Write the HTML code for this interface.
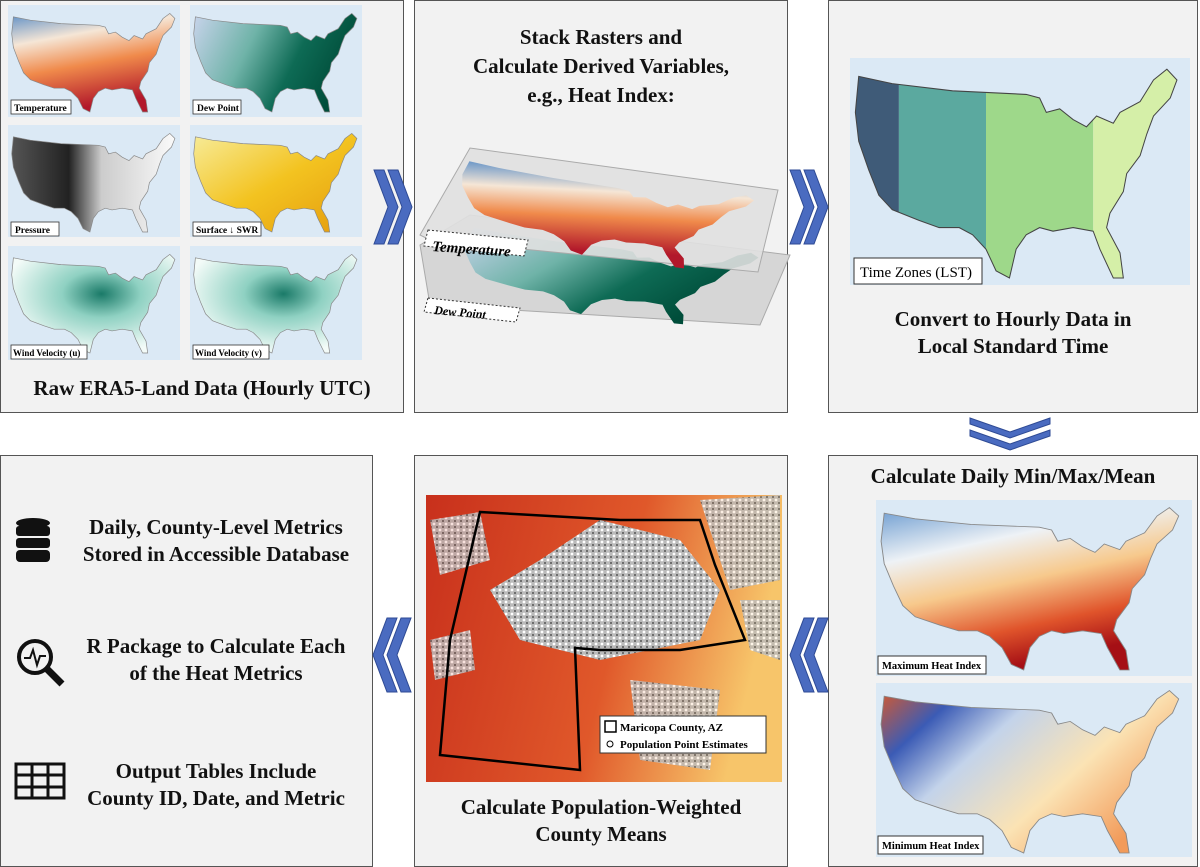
<!DOCTYPE html>
<html><head><meta charset="utf-8">
<style>
body{margin:0;width:1200px;height:867px;background:#fff;position:relative;overflow:hidden;font-family:"Liberation Serif",serif}
.panel{position:absolute;background:#f2f2f2;border:1.5px solid #555;box-sizing:border-box}
.t{position:absolute;font-weight:bold;text-align:center;color:#111;font-size:21px;line-height:27px}
svg{position:absolute;left:0;top:0}
</style></head><body>
<div class="panel" style="left:0;top:0;width:404px;height:413px"></div>
<div class="panel" style="left:414px;top:0;width:374px;height:413px"></div>
<div class="panel" style="left:828px;top:0;width:370px;height:413px"></div>
<div class="panel" style="left:0;top:455px;width:373px;height:412px"></div>
<div class="panel" style="left:414px;top:455px;width:374px;height:412px"></div>
<div class="panel" style="left:828px;top:455px;width:370px;height:412px"></div>

<svg width="1200" height="867" viewBox="0 0 1200 867">
<defs>
<path id="us" d="M2,4 L12,6 L30,8 L52,9 L56,10 L58,14 L62,13 L66,16 L70,18 L73,15 L78,17 L80,14 L86,11 L90,5 L94,2 L97,5 L95,10 L90,15 L88,20 L86,26 L82,31 L81,36 L77,42 L76,46 L80,53 L81,60 L78,60 L74,52 L72,47 L66,46 L60,47 L56,46 L52,48 L49,52 L47,60 L43,58 L40,52 L36,48 L32,46 L26,46 L20,44 L12,41 L8,37 L5,30 L2,22 L1,14 Z"/>
<clipPath id="usc"><use href="#us"/></clipPath>
<linearGradient id="gTemp" x1="0" y1="0" x2="0.3" y2="1"><stop offset="0" stop-color="#5b8ec6"/><stop offset="0.3" stop-color="#f5e6d6"/><stop offset="0.6" stop-color="#f08a4b"/><stop offset="1" stop-color="#b2182b"/></linearGradient>
<linearGradient id="gDew" x1="0" y1="0" x2="1" y2="0.3"><stop offset="0" stop-color="#c9d4ec"/><stop offset="0.4" stop-color="#6fb3a8"/><stop offset="0.7" stop-color="#0e6b55"/><stop offset="1" stop-color="#004d3a"/></linearGradient>
<linearGradient id="gPres" x1="0" y1="0" x2="1" y2="0"><stop offset="0" stop-color="#555"/><stop offset="0.35" stop-color="#222"/><stop offset="0.55" stop-color="#ccc"/><stop offset="1" stop-color="#fafafa"/></linearGradient>
<linearGradient id="gSwr" x1="0" y1="0" x2="1" y2="1"><stop offset="0" stop-color="#f7ec9a"/><stop offset="0.5" stop-color="#f3c320"/><stop offset="1" stop-color="#e49b0e"/></linearGradient>
<radialGradient id="gWind" cx="0.55" cy="0.4" r="0.6"><stop offset="0" stop-color="#1a7a68"/><stop offset="0.4" stop-color="#8fd1c2"/><stop offset="1" stop-color="#f3fbf8"/></radialGradient>
<linearGradient id="gMax" x1="0" y1="0" x2="0.4" y2="1"><stop offset="0" stop-color="#6b9bd0"/><stop offset="0.3" stop-color="#eef2f6"/><stop offset="0.55" stop-color="#f7c98c"/><stop offset="0.8" stop-color="#e0542b"/><stop offset="1" stop-color="#a50f15"/></linearGradient>
<linearGradient id="gMin" x1="0" y1="0" x2="1" y2="0.6"><stop offset="0" stop-color="#d55a2e"/><stop offset="0.2" stop-color="#3b5bb5"/><stop offset="0.4" stop-color="#c3d3ea"/><stop offset="0.7" stop-color="#fbe3b4"/><stop offset="1" stop-color="#f29b5a"/></linearGradient>
<linearGradient id="gRast" x1="0" y1="0" x2="1" y2="0.2"><stop offset="0" stop-color="#c8301c"/><stop offset="0.6" stop-color="#e0582a"/><stop offset="1" stop-color="#f7c56a"/></linearGradient>
<pattern id="speck" width="6" height="6" patternUnits="userSpaceOnUse"><rect width="6" height="6" fill="#bbb"/><circle cx="2" cy="2" r="1.4" fill="#fff"/><circle cx="5" cy="5" r="1" fill="#555"/></pattern>
<polygon id="chev" points="0,0 10,0 24,37 10,74 0,74 14,37"/>
</defs>

<g><rect x="8" y="5" width="172" height="112" fill="#dbe9f5"/><use href="#us" fill="url(#gTemp)" stroke="#888" stroke-width="0.4" transform="translate(10,10) scale(1.7)"/><rect x="11" y="100" width="60" height="14" fill="#fff" stroke="#333" stroke-width="0.8"/><text x="14" y="111" font-size="9.5" font-weight="bold">Temperature</text></g>
<g><rect x="190" y="5" width="172" height="112" fill="#dbe9f5"/><use href="#us" fill="url(#gDew)" stroke="#888" stroke-width="0.4" transform="translate(192,10) scale(1.7)"/><rect x="193" y="100" width="48" height="14" fill="#fff" stroke="#333" stroke-width="0.8"/><text x="197" y="111" font-size="9.5" font-weight="bold">Dew Point</text></g>
<g><rect x="8" y="125" width="172" height="112" fill="#dbe9f5"/><use href="#us" fill="url(#gPres)" stroke="#888" stroke-width="0.4" transform="translate(10,130) scale(1.7)"/><rect x="11" y="222" width="48" height="14" fill="#fff" stroke="#333" stroke-width="0.8"/><text x="15" y="233" font-size="9.5" font-weight="bold">Pressure</text></g>
<g><rect x="190" y="125" width="172" height="112" fill="#dbe9f5"/><use href="#us" fill="url(#gSwr)" stroke="#888" stroke-width="0.4" transform="translate(192,130) scale(1.7)"/><rect x="193" y="222" width="68" height="14" fill="#fff" stroke="#333" stroke-width="0.8"/><text x="196" y="233" font-size="9.5" font-weight="bold">Surface ↓ SWR</text></g>
<g><rect x="8" y="246" width="172" height="114" fill="#dbe9f5"/><use href="#us" fill="url(#gWind)" stroke="#888" stroke-width="0.4" transform="translate(10,251) scale(1.7)"/><rect x="11" y="345" width="76" height="14" fill="#fff" stroke="#333" stroke-width="0.8"/><text x="13" y="356" font-size="9" font-weight="bold">Wind Velocity (u)</text></g>
<g><rect x="190" y="246" width="172" height="114" fill="#dbe9f5"/><use href="#us" fill="url(#gWind)" stroke="#888" stroke-width="0.4" transform="translate(192,251) scale(1.7)"/><rect x="193" y="345" width="76" height="14" fill="#fff" stroke="#333" stroke-width="0.8"/><text x="195" y="356" font-size="9" font-weight="bold">Wind Velocity (v)</text></g>

<g>
<polygon points="420,245 470,215 790,255 760,325 430,305" fill="#d6d6d6" stroke="#aaa"/>
<g transform="matrix(3.0,0.3,-0.5,1.3,470,222)"><use href="#us" fill="url(#gDew)"/></g>
<polygon points="420,235 470,148 778,190 758,272 430,240" fill="#e0e0e0" fill-opacity="0.9" stroke="#aaa"/>
<g transform="matrix(3.0,0.4,-0.4,1.35,465,155)"><use href="#us" fill="url(#gTemp)"/></g>
<polygon points="428,230 528,240 524,256 424,246" fill="#fff" stroke="#333" stroke-dasharray="2,2"/>
<text x="432" y="251" font-size="15" font-weight="bold" font-style="italic" transform="rotate(4 432 251)">Temperature</text>
<polygon points="428,298 520,308 516,322 424,312" fill="#fff" stroke="#333" stroke-dasharray="2,2"/>
<text x="434" y="314" font-size="12" font-weight="bold" font-style="italic" transform="rotate(5 434 314)">Dew Point</text>
</g>

<g>
<rect x="850" y="58" width="340" height="227" fill="#dbe9f5"/>
<g transform="translate(852,62) scale(3.35,3.6)" clip-path="url(#usc)">
<rect x="0" y="0" width="14" height="62" fill="#3f5b78"/>
<rect x="14" y="0" width="26" height="62" fill="#5ba99f"/>
<rect x="40" y="0" width="32" height="62" fill="#9ed88a"/>
<rect x="72" y="0" width="30" height="62" fill="#d5efa8"/>
</g>
<use href="#us" fill="none" stroke="#444" stroke-width="0.3" transform="translate(852,62) scale(3.35,3.6)"/>
<rect x="854" y="258" width="128" height="26" fill="#fff" stroke="#333"/>
<text x="860" y="277" font-size="15">Time Zones (LST)</text>
</g>

<g><rect x="876" y="500" width="316" height="176" fill="#dbe9f5"/><use href="#us" fill="url(#gMax)" stroke="#888" stroke-width="0.3" transform="translate(878,502) scale(3.1,2.8)"/><rect x="878" y="656" width="108" height="18" fill="#fff" stroke="#333"/><text x="882" y="669" font-size="10.5" font-weight="bold">Maximum Heat Index</text></g>
<g><rect x="876" y="683" width="316" height="174" fill="#dbe9f5"/><use href="#us" fill="url(#gMin)" stroke="#888" stroke-width="0.3" transform="translate(878,685) scale(3.1,2.8)"/><rect x="878" y="836" width="105" height="18" fill="#fff" stroke="#333"/><text x="882" y="849" font-size="10.5" font-weight="bold">Minimum Heat Index</text></g>

<g>
<rect x="426" y="495" width="356" height="287" fill="url(#gRast)"/>
<path d="M540,560 L600,520 L680,540 L720,590 L700,640 L600,660 L520,640 L490,590 Z" fill="url(#speck)"/>
<path d="M430,520 L480,512 L490,560 L440,575 Z M700,500 L780,495 L780,580 L730,590 Z M630,680 L720,690 L710,770 L640,760 Z M430,640 L470,630 L475,670 L435,680 Z M740,600 L780,600 L780,660 L750,650 Z" fill="url(#speck)" opacity="0.85"/>
<path d="M480,512 L620,520 L700,520 L715,565 L745,640 L680,650 L600,650 L575,648 L580,770 L440,755 L450,640 L480,512 Z" fill="none" stroke="#000" stroke-width="2.5"/>
<rect x="600" y="716" width="166" height="37" fill="#fff" stroke="#333"/>
<rect x="605" y="721" width="11" height="11" fill="none" stroke="#000" stroke-width="1.5"/>
<text x="620" y="731" font-size="11" font-weight="bold">Maricopa County, AZ</text>
<circle cx="610" cy="744" r="3" fill="#fff" stroke="#000"/>
<text x="620" y="748" font-size="11" font-weight="bold">Population Point Estimates</text>
</g>

<g fill="#111">
<ellipse cx="33" cy="523" rx="17" ry="5"/><rect x="16" y="526" width="34" height="10" rx="3"/><rect x="16" y="538" width="34" height="10" rx="3"/><rect x="16" y="550" width="34" height="12" rx="4"/>
</g>
<g fill="none" stroke="#111" stroke-width="4">
<circle cx="35" cy="657" r="16"/><line x1="47" y1="669" x2="62" y2="684" stroke-width="7"/>
<polyline points="24,658 30,658 33,650 37,665 40,656 46,656" stroke-width="2"/>
</g>
<g fill="none" stroke="#111" stroke-width="3">
<rect x="16" y="764" width="48" height="34"/><line x1="16" y1="775" x2="64" y2="775"/><line x1="16" y1="787" x2="64" y2="787"/><line x1="32" y1="764" x2="32" y2="798"/><line x1="48" y1="764" x2="48" y2="798"/>
</g>

<g fill="#4a6bc0" stroke="#2e4a94" stroke-width="1">
<g><use href="#chev" x="374" y="170"/><use href="#chev" x="388" y="170"/></g>
<g><use href="#chev" x="790" y="170"/><use href="#chev" x="804" y="170"/></g>
<g><polygon points="970,418 1010,432 1050,418 1050,424 1010,438 970,424"/><polygon points="970,430 1010,444 1050,430 1050,436 1010,450 970,436"/></g>
<g><use href="#chev" transform="translate(1604,0) scale(-1,1)" x="790" y="618"/><use href="#chev" transform="translate(1618,0) scale(-1,1)" x="790" y="618"/></g>
<g><use href="#chev" transform="translate(771,0) scale(-1,1)" x="374" y="618"/><use href="#chev" transform="translate(785,0) scale(-1,1)" x="374" y="618"/></g>
</g>
</svg>

<div class="t" style="left:0;top:375px;width:404px">Raw ERA5-Land Data (Hourly UTC)</div>
<div class="t" style="left:414px;top:23px;width:374px;line-height:29px">Stack Rasters and<br>Calculate Derived Variables,<br>e.g., Heat Index:</div>
<div class="t" style="left:828px;top:306px;width:370px">Convert to Hourly Data in<br>Local Standard Time</div>
<div class="t" style="left:828px;top:463px;width:370px">Calculate Daily Min/Max/Mean</div>
<div class="t" style="left:414px;top:794px;width:374px">Calculate Population-Weighted<br>County Means</div>
<div class="t" style="left:66px;top:514px;width:300px">Daily, County-Level Metrics<br>Stored in Accessible Database</div>
<div class="t" style="left:66px;top:633px;width:300px">R Package to Calculate Each<br>of the Heat Metrics</div>
<div class="t" style="left:66px;top:758px;width:300px">Output Tables Include<br>County ID, Date, and Metric</div>
</body></html>
